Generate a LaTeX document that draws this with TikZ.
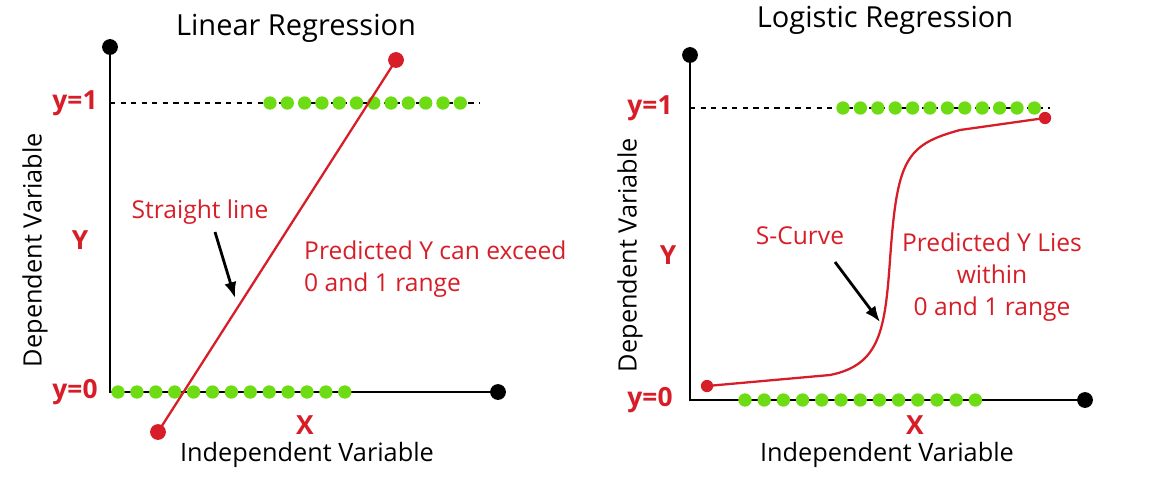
\documentclass[tikz,border=0pt]{standalone}
\usepackage{fontspec}
\setmainfont{Open Sans}
\usetikzlibrary{arrows.meta}
\definecolor{lred}{RGB}{215,30,40}
\definecolor{lgreen}{RGB}{110,220,20}
\tikzset{
  gdot/.style={fill=lgreen, draw=none},
  rdot/.style={fill=lred, draw=none},
  redtxt/.style={text=lred, font=\fontsize{14}{18}\selectfont},
  redlbl/.style={text=lred, font=\fontsize{15}{18}\selectfont\bfseries},
  blktxt/.style={font=\fontsize{14.4}{18}\selectfont},
  axis/.style={line width=1.6pt},
}
\begin{document}
\begin{tikzpicture}[x=0.02cm, y=-0.02cm]
\useasboundingbox (0,0) rectangle (1166,487);

% left panel
\coordinate (lo) at (110,392);
\coordinate (ltop) at (110,47);
\coordinate (lright) at (498,392);
\draw[axis] (ltop) -- (lo) -- (lright);
\fill (ltop) circle (4.5pt);
\fill (lright) circle (4.5pt);
\draw[dashed, thick] (110,103) -- (480,103);
\foreach \i in {0,...,11} \fill[gdot] (270+\i*17.3,103) circle (3.8pt);
\foreach \i in {0,...,12} \fill[gdot] (118+\i*18.9,392) circle (3.8pt);
\coordinate (la) at (158,432);
\coordinate (lb) at (396,60);
\draw[lred, line width=1.3pt] (la) -- (lb);
\fill[rdot] (la) circle (4.5pt);
\fill[rdot] (lb) circle (4.5pt);

\node[redlbl] (ly1) at (75,103) {y=1};
\node[redlbl] (ly0) at (75,392) {y=0};
\node[redlbl] (lY) at (80,240) {Y};
\node[blktxt, rotate=90] (ldep) at (35,250) {Dependent Variable};
\node[redlbl] (lX) at (305,425) {X};
\node[blktxt] (lind) at (307,455) {Independent Variable};
\node[font=\fontsize{16.5}{20}\selectfont] (ltitle) at (296,28) {Linear Regression};
\node[redtxt] (lstr) at (200,212) {Straight line};
\draw[-{Latex[length=9pt,width=7pt]}, line width=1.6pt] (215,232) -- (235,298);
\node[redtxt, anchor=west] (lpred1) at (298,250) {Predicted Y can exceed};
\node[redtxt, anchor=west] (lpred2) at (298,285) {0 and 1 range};

% right panel
\coordinate (ro) at (690,400);
\coordinate (rtop) at (690,55);
\coordinate (rright) at (1085,400);
\draw[axis] (rtop) -- (ro) -- (rright);
\fill (rtop) circle (4.5pt);
\fill (rright) circle (4.5pt);
\draw[dashed, thick] (690,108) -- (1050,108);
\foreach \i in {0,...,11} \fill[gdot] (843+\i*17.4,108) circle (3.8pt);
\foreach \i in {0,...,12} \fill[gdot] (745+\i*19.2,400) circle (3.8pt);
\coordinate (ra) at (707,386);
\coordinate (rb) at (1045,118);
\draw[lred, line width=1.3pt] (ra) -- (830,375)
  .. controls (880,365) and (885,330) .. (890,260)
  .. controls (897,160) and (905,145) .. (960,130)
  -- (rb);
\fill[rdot] (ra) circle (3.5pt);
\fill[rdot] (rb) circle (3.5pt);

\node[redlbl] (ry1) at (650,108) {y=1};
\node[redlbl] (ry0) at (650,400) {y=0};
\node[redlbl] (rY) at (668,255) {Y};
\node[blktxt, rotate=90] (rdep) at (630,255) {Dependent Variable};
\node[redlbl] (rX) at (915,425) {X};
\node[blktxt] (rind) at (887,455) {Independent Variable};
\node[font=\fontsize{16.5}{20}\selectfont] (rtitle) at (885,20) {Logistic Regression};
\node[redtxt] (rs) at (800,236) {S-Curve};
\draw[-{Latex[length=9pt,width=7pt]}, line width=1.6pt] (835,262) -- (880,322);
\node[redtxt, align=center] (rpred) at (992,277) {Predicted Y Lies\\within\\0 and 1 range};

\end{tikzpicture}
\end{document}
